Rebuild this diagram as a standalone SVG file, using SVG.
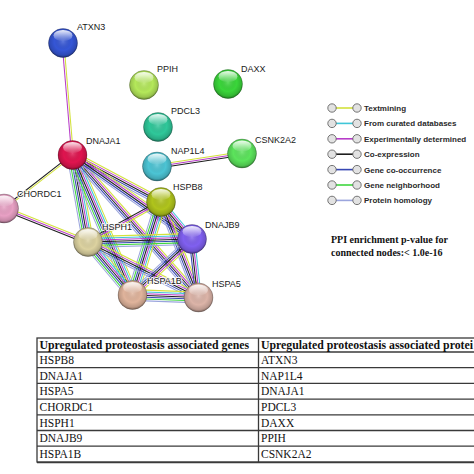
<svg xmlns="http://www.w3.org/2000/svg" xmlns:xlink="http://www.w3.org/1999/xlink" width="474" height="474" viewBox="0 0 474 474">
<style>
.el line{stroke-width:1.05;vector-effect:non-scaling-stroke;fill:none}
.t{stroke:#d3e23c}.c{stroke:#3fc6d8}.e{stroke:#b73dc9}.k{stroke:#1e1e1e}.o{stroke:#3747b3}.n{stroke:#3fd63f}.h{stroke:#9ba5dd}
.lbl{font-family:"Liberation Sans",Arial,sans-serif;font-size:9px;fill:#1a1a1a;stroke:#fff;stroke-width:2.2;stroke-opacity:0.85;paint-order:stroke;stroke-linejoin:round}
.leg{font-family:"Liberation Sans",Arial,sans-serif;font-size:8px;font-weight:bold;fill:#2a2a2a}
.lc{fill:#e2e2e2;stroke:#555;stroke-width:0.8}
.ll{stroke-width:1.6}
.ppi{font-family:"Liberation Serif","Times New Roman",serif;font-size:10px;font-weight:bold;fill:#111}
.th{font-family:"Liberation Serif","Times New Roman",serif;font-size:11.8px;font-weight:bold;fill:#111}
.td{font-family:"Liberation Serif","Times New Roman",serif;font-size:11.5px;fill:#111}
.tl{stroke:#3a3a3a;stroke-width:1.3;fill:none}
</style>
<defs>
<radialGradient id="shade" cx="0.5" cy="0.45" r="0.55">
<stop offset="0" stop-color="#fff" stop-opacity="0.2"/>
<stop offset="0.55" stop-color="#000" stop-opacity="0"/>
<stop offset="0.85" stop-color="#000" stop-opacity="0.15"/>
<stop offset="1" stop-color="#000" stop-opacity="0.45"/>
</radialGradient>
<linearGradient id="gloss" x1="0" y1="0" x2="0" y2="1">
<stop offset="0" stop-color="#fff" stop-opacity="0.9"/>
<stop offset="1" stop-color="#fff" stop-opacity="0.05"/>
</linearGradient>
<g id="ov"><circle r="14.5" fill="url(#shade)" stroke="#000" stroke-opacity="0.3" stroke-width="0.7"/><ellipse cy="-7.5" rx="9.5" ry="5.5" fill="url(#gloss)"/></g>
<g id="s7" class="el"><line x1="0" x2="1" y1="-5.4" y2="-5.4" class="t"/><line x1="0" x2="1" y1="-3.6" y2="-3.6" class="c"/><line x1="0" x2="1" y1="-1.8" y2="-1.8" class="e"/><line x1="0" x2="1" y1="0" y2="0" class="k"/><line x1="0" x2="1" y1="1.8" y2="1.8" class="o"/><line x1="0" x2="1" y1="3.6" y2="3.6" class="n"/><line x1="0" x2="1" y1="5.4" y2="5.4" class="h"/></g>
<g id="s5" class="el"><line x1="0" x2="1" y1="-3.6" y2="-3.6" class="t"/><line x1="0" x2="1" y1="-1.8" y2="-1.8" class="e"/><line x1="0" x2="1" y1="0" y2="0" class="k"/><line x1="0" x2="1" y1="1.8" y2="1.8" class="o"/><line x1="0" x2="1" y1="3.6" y2="3.6" class="h"/></g>
<g id="s4" class="el"><line x1="0" x2="1" y1="-2.7" y2="-2.7" class="c"/><line x1="0" x2="1" y1="-0.9" y2="-0.9" class="e"/><line x1="0" x2="1" y1="0.9" y2="0.9" class="k"/><line x1="0" x2="1" y1="2.7" y2="2.7" class="o"/></g>
<g id="s3" class="el"><line x1="0" x2="1" y1="-1.8" y2="-1.8" class="t"/><line x1="0" x2="1" y1="0" y2="0" class="e"/><line x1="0" x2="1" y1="1.8" y2="1.8" class="k"/></g>
<g id="s2a" class="el"><line x1="0" x2="1" y1="-0.9" y2="-0.9" class="t"/><line x1="0" x2="1" y1="0.9" y2="0.9" class="e"/></g>
<g id="s2b" class="el"><line x1="0" x2="1" y1="-0.9" y2="-0.9" class="t"/><line x1="0" x2="1" y1="0.9" y2="0.9" class="k"/></g>
</defs>
<rect width="474" height="474" fill="#fff"/>
<g id="connectors">
<use href="#s2a" transform="translate(63 43) rotate(85.15) scale(112.4 1)"/>
<use href="#s3" transform="translate(157 166.5) rotate(-8.70) scale(86 1)"/>
<use href="#s2b" transform="translate(72.5 155) rotate(142.01) scale(86.9 1)"/>
<use href="#s3" transform="translate(4 208.5) rotate(21.75) scale(90.4 1)"/>
<use href="#s7" transform="translate(72.5 155) rotate(79.90) scale(88.4 1)"/>
<use href="#s7" transform="translate(72.5 155) rotate(66.80) scale(152.3 1)"/>
<use href="#s5" transform="translate(72.5 155) rotate(48.52) scale(190.2 1)"/>
<use href="#s5" transform="translate(72.5 155) rotate(27.97) scale(100.2 1)"/>
<use href="#s5" transform="translate(72.5 155) rotate(35.10) scale(146.1 1)"/>
<use href="#s3" transform="translate(161 202) rotate(151.28) scale(83.2 1)"/>
<use href="#s7" transform="translate(161 202) rotate(107.04) scale(97.3 1)"/>
<use href="#s5" transform="translate(161 202) rotate(68.56) scale(102.6 1)"/>
<use href="#s4" transform="translate(161 202) rotate(50.03) scale(48.3 1)"/>
<use href="#s7" transform="translate(88 242) rotate(-1.65) scale(104 1)"/>
<use href="#s7" transform="translate(88 242) rotate(49.98) scale(69.2 1)"/>
<use href="#s5" transform="translate(88 242) rotate(26.66) scale(123.7 1)"/>
<use href="#s5" transform="translate(192 239) rotate(136.74) scale(81.7 1)"/>
<use href="#s4" transform="translate(192 239) rotate(83.66) scale(58.9 1)"/>
<use href="#s7" transform="translate(132.5 295) rotate(2.17) scale(66 1)"/>
</g>
<g id="n-ATXN3"><circle cx="63" cy="43" r="14.5" fill="#3556d6"/><use href="#ov" x="63" y="43"/><text class="lbl" x="77" y="30">ATXN3</text></g>
<g id="n-PPIH"><circle cx="144" cy="85" r="14.5" fill="#b4e85a"/><use href="#ov" x="144" y="85"/><text class="lbl" x="157" y="72">PPIH</text></g>
<g id="n-DAXX"><circle cx="228" cy="84" r="14.5" fill="#3ad63a"/><use href="#ov" x="228" y="84"/><text class="lbl" x="241" y="72">DAXX</text></g>
<g id="n-PDCL3"><circle cx="158" cy="127" r="14.5" fill="#2fc89a"/><use href="#ov" x="158" y="127"/><text class="lbl" x="171" y="114">PDCL3</text></g>
<g id="n-DNAJA1"><circle cx="72.5" cy="155" r="14.5" fill="#e0144f"/><use href="#ov" x="72.5" y="155"/><text class="lbl" x="86" y="143.5">DNAJA1</text></g>
<g id="n-NAP1L4"><circle cx="157" cy="166.5" r="14.5" fill="#4cc4d4"/><use href="#ov" x="157" y="166.5"/><text class="lbl" x="171" y="154">NAP1L4</text></g>
<g id="n-CSNK2A2"><circle cx="242" cy="153.5" r="14.5" fill="#5ce45c"/><use href="#ov" x="242" y="153.5"/><text class="lbl" x="255" y="143">CSNK2A2</text></g>
<g id="n-HSPB8"><circle cx="161" cy="202" r="14.5" fill="#b0c41c"/><use href="#ov" x="161" y="202"/><text class="lbl" x="173" y="190">HSPB8</text></g>
<g id="n-CHORDC1"><circle cx="4" cy="208.5" r="14.5" fill="#e8a0c4"/><use href="#ov" x="4" y="208.5"/><text class="lbl" x="17" y="197">CHORDC1</text></g>
<g id="n-DNAJB9"><circle cx="192" cy="239" r="14.5" fill="#8060f0"/><use href="#ov" x="192" y="239"/><text class="lbl" x="205" y="227.5">DNAJB9</text></g>
<g id="n-HSPH1"><circle cx="88" cy="242" r="14.5" fill="#dcd2a0"/><use href="#ov" x="88" y="242"/><text class="lbl" x="102" y="229.5">HSPH1</text></g>
<g id="n-HSPA1B"><circle cx="132.5" cy="295" r="14.5" fill="#e0b49c"/><use href="#ov" x="132.5" y="295"/><text class="lbl" x="147" y="283.5">HSPA1B</text></g>
<g id="n-HSPA5"><circle cx="198.5" cy="297.5" r="14.5" fill="#dcb4a8"/><use href="#ov" x="198.5" y="297.5"/><text class="lbl" x="212" y="287">HSPA5</text></g>
<g id="legend">
<line class="ll t" x1="336" y1="108" x2="353" y2="108"/><circle class="lc" cx="332" cy="108" r="4.2"/><circle class="lc" cx="357" cy="108" r="4.2"/><text class="leg" x="364" y="111">Textmining</text>
<line class="ll c" x1="336" y1="123.4" x2="353" y2="123.4"/><circle class="lc" cx="332" cy="123.4" r="4.2"/><circle class="lc" cx="357" cy="123.4" r="4.2"/><text class="leg" x="364" y="126.4">From curated databases</text>
<line class="ll e" x1="336" y1="138.8" x2="353" y2="138.8"/><circle class="lc" cx="332" cy="138.8" r="4.2"/><circle class="lc" cx="357" cy="138.8" r="4.2"/><text class="leg" x="364" y="141.8">Experimentally determined</text>
<line class="ll k" x1="336" y1="154.2" x2="353" y2="154.2"/><circle class="lc" cx="332" cy="154.2" r="4.2"/><circle class="lc" cx="357" cy="154.2" r="4.2"/><text class="leg" x="364" y="157.2">Co-expression</text>
<line class="ll o" x1="336" y1="169.6" x2="353" y2="169.6"/><circle class="lc" cx="332" cy="169.6" r="4.2"/><circle class="lc" cx="357" cy="169.6" r="4.2"/><text class="leg" x="364" y="172.6">Gene co-occurrence</text>
<line class="ll n" x1="336" y1="185" x2="353" y2="185"/><circle class="lc" cx="332" cy="185" r="4.2"/><circle class="lc" cx="357" cy="185" r="4.2"/><text class="leg" x="364" y="188">Gene neighborhood</text>
<line class="ll h" x1="336" y1="200.4" x2="353" y2="200.4"/><circle class="lc" cx="332" cy="200.4" r="4.2"/><circle class="lc" cx="357" cy="200.4" r="4.2"/><text class="leg" x="364" y="203.4">Protein homology</text>
<text class="ppi" x="331" y="243">PPI enrichment p-value for</text>
<text class="ppi" x="331" y="256">connected nodes:&lt; 1.0e-16</text>
</g>
<g id="table">
<rect class="tl" x="37" y="338" width="450" height="124"/>
<line class="tl" x1="37" y1="462.5" x2="474" y2="462.5" stroke-width="2"/>
<line class="tl" x1="258.5" y1="338" x2="258.5" y2="462"/>
<line class="tl" x1="37" y1="352" x2="474" y2="352"/>
<line class="tl" x1="37" y1="367.7" x2="474" y2="367.7"/>
<line class="tl" x1="37" y1="383.4" x2="474" y2="383.4"/>
<line class="tl" x1="37" y1="399.1" x2="474" y2="399.1"/>
<line class="tl" x1="37" y1="414.8" x2="474" y2="414.8"/>
<line class="tl" x1="37" y1="430.5" x2="474" y2="430.5"/>
<line class="tl" x1="37" y1="446.2" x2="474" y2="446.2"/>
<text class="th" x="39.5" y="349">Upregulated proteostasis associated genes</text>
<text class="th" x="261" y="349">Upregulated proteostasis associated protei</text>
<text class="td" x="39.5" y="364">HSPB8</text><text class="td" x="261" y="364">ATXN3</text>
<text class="td" x="39.5" y="379.6">DNAJA1</text><text class="td" x="261" y="379.6">NAP1L4</text>
<text class="td" x="39.5" y="395.3">HSPA5</text><text class="td" x="261" y="395.3">DNAJA1</text>
<text class="td" x="39.5" y="411">CHORDC1</text><text class="td" x="261" y="411">PDCL3</text>
<text class="td" x="39.5" y="426.7">HSPH1</text><text class="td" x="261" y="426.7">DAXX</text>
<text class="td" x="39.5" y="442.4">DNAJB9</text><text class="td" x="261" y="442.4">PPIH</text>
<text class="td" x="39.5" y="458.1">HSPA1B</text><text class="td" x="261" y="458.1">CSNK2A2</text>
</g>
</svg>
